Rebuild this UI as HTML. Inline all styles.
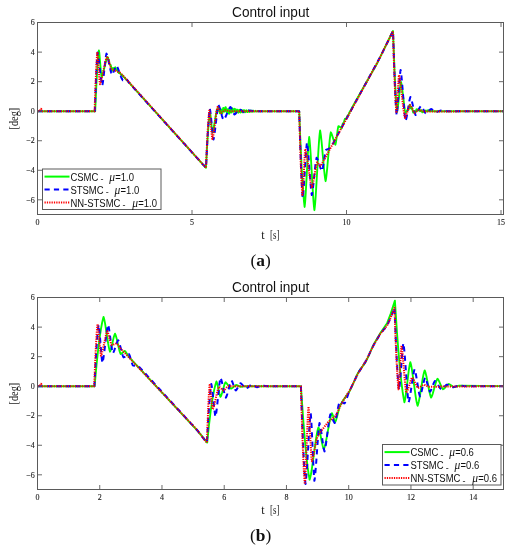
<!DOCTYPE html>
<html lang="en"><head><meta charset="utf-8"><title>Control input</title>
<style>
html,body{margin:0;padding:0;background:#fff;}
body{width:514px;height:550px;overflow:hidden;}
svg{display:block;}
text{fill:#1a1a1a;}
.tk{font-family:"Liberation Serif","DejaVu Serif",serif;font-size:8px;stroke:#1a1a1a;stroke-width:0.1px;}
.title{font-family:"Liberation Sans","DejaVu Sans",sans-serif;font-size:13.9px;fill:#111;}
.xl,.yl{font-family:"Liberation Serif","DejaVu Serif",serif;font-size:12px;}
.lg{font-family:"Liberation Sans","DejaVu Sans",sans-serif;font-size:9.5px;fill:#111;}
.lg .sub{font-size:9px;}
.lg .mu{font-family:"Liberation Serif","DejaVu Serif",serif;font-style:italic;font-size:11.5px;}
.cap{font-family:"Liberation Serif","DejaVu Serif",serif;font-size:17.4px;fill:#111;}
.cap .b{font-weight:bold;}
</style></head><body>
<svg width="514" height="550" viewBox="0 0 514 550">
<rect width="514" height="550" fill="#fff"/>
<g clip-path="url(#c1)" filter="url(#bl)">
<path d="M37.50,111.20 L95.20,111.20 L96.20,88.53 L96.95,74.44 L97.70,62.97 L98.20,56.85 L98.70,51.98 L98.90,50.40 L99.20,52.23 L99.45,54.41 L100.95,71.98 L101.20,74.36 L101.45,76.20 L101.60,77.00 L101.95,76.35 L102.45,75.08 L103.20,72.57 L105.95,61.24 L106.45,59.52 L106.95,58.11 L107.20,57.54 L107.50,57.00 L107.70,57.29 L107.95,57.76 L108.45,58.98 L108.95,60.49 L109.45,63.66 L109.70,64.53 L109.95,64.75 L110.20,64.63 L110.45,64.60 L110.70,65.03 L110.95,66.07 L111.45,69.08 L111.70,70.26 L111.95,70.76 L112.00,70.77 L112.20,70.29 L112.70,68.45 L112.95,67.90 L113.20,67.91 L113.45,68.39 L113.70,69.06 L113.95,69.57 L114.20,69.64 L114.45,69.20 L115.00,67.51 L115.20,67.29 L115.45,67.48 L115.70,68.13 L116.20,69.87 L116.45,70.39 L116.70,70.48 L116.95,70.25 L117.20,69.95 L117.45,69.84 L117.70,70.09 L117.95,70.72 L118.45,72.37 L118.70,72.91 L118.95,73.09 L119.20,72.95 L119.45,72.69 L119.70,72.54 L119.95,72.66 L120.20,73.08 L120.70,74.33 L120.95,74.79 L121.20,74.99 L121.45,74.96 L121.70,74.82 L121.95,74.75 L122.20,74.86 L122.45,75.19 L123.20,76.65 L123.45,76.93 L123.70,77.04 L124.20,77.14 L124.45,77.32 L124.70,77.63 L125.45,78.86 L125.70,79.15 L126.45,79.71 L126.95,80.24 L127.70,81.18 L206.00,167.80 L207.00,148.18 L207.75,135.92 L208.50,125.78 L209.00,120.22 L209.50,115.63 L210.00,112.00 L210.25,113.25 L210.50,115.05 L211.75,127.45 L212.00,129.65 L212.25,131.45 L212.50,132.70 L212.75,132.05 L213.00,131.21 L213.50,129.06 L214.50,123.47 L216.00,114.27 L216.50,111.64 L217.00,109.49 L217.25,110.41 L217.50,110.71 L217.75,110.60 L218.00,109.45 L218.25,107.88 L218.50,106.69 L218.75,106.54 L219.00,107.60 L219.50,111.62 L219.75,113.06 L220.00,113.36 L220.25,112.54 L220.75,109.77 L221.00,109.25 L221.25,109.63 L221.50,110.90 L221.75,112.42 L222.00,113.45 L222.25,113.47 L222.50,112.39 L223.00,108.87 L223.25,107.82 L223.50,107.83 L223.75,108.80 L224.00,110.19 L224.25,111.30 L224.50,111.55 L224.75,110.79 L225.25,107.91 L225.50,107.08 L225.75,107.25 L226.00,108.39 L226.50,111.57 L226.75,112.37 L227.00,112.18 L227.25,111.21 L227.50,109.99 L227.75,109.16 L228.00,109.17 L228.25,110.10 L228.75,113.01 L229.00,113.81 L229.25,113.55 L229.50,112.46 L229.75,111.02 L230.00,109.82 L230.25,109.35 L230.50,109.75 L231.00,111.90 L231.25,112.56 L231.50,112.41 L231.75,111.46 L232.25,108.89 L232.50,108.31 L232.75,108.57 L233.00,109.51 L233.25,110.74 L233.50,111.65 L233.75,111.84 L234.00,111.28 L234.50,109.22 L234.75,108.71 L235.00,108.96 L235.25,109.86 L235.50,111.04 L235.75,112.01 L236.00,112.37 L236.25,112.00 L236.75,110.15 L237.00,109.56 L237.25,109.63 L237.50,110.34 L238.00,112.29 L238.25,112.67 L238.50,112.39 L238.75,111.59 L239.00,110.63 L239.25,109.94 L239.50,109.83 L239.75,110.33 L240.25,112.05 L240.50,112.51 L240.75,112.37 L241.00,111.72 L241.25,110.85 L241.50,110.16 L241.75,109.94 L242.00,110.29 L242.50,111.83 L242.75,112.33 L243.00,112.31 L243.25,111.81 L243.75,110.37 L244.00,110.08 L244.25,110.30 L244.75,111.63 L245.00,112.14 L245.25,112.22 L245.50,111.85 L246.00,110.57 L246.25,110.24 L246.50,110.34 L246.75,110.82 L247.00,111.45 L247.25,111.95 L247.50,112.10 L247.75,111.85 L248.25,110.76 L248.50,110.41 L248.75,110.42 L249.00,110.78 L249.50,111.77 L249.75,111.96 L250.00,111.81 L250.50,110.91 L250.75,110.58 L251.00,110.53 L251.25,110.78 L251.75,111.60 L252.00,111.81 L252.25,111.74 L252.50,111.44 L252.75,111.04 L253.00,110.74 L253.25,110.66 L253.50,110.81 L254.00,111.46 L254.25,111.65 L254.50,111.64 L254.75,111.43 L255.25,110.89 L255.50,110.80 L255.75,110.88 L256.25,111.34 L256.50,111.50 L256.75,111.52 L257.00,111.40 L257.50,111.02 L257.75,110.94 L258.00,110.98 L258.75,111.37 L259.00,111.39 L259.25,111.33 L259.75,111.13 L260.00,111.08 L261.00,111.25 L299.20,111.20 L300.45,142.77 L301.45,163.95 L302.45,181.50 L303.20,192.29 L303.95,201.05 L304.60,207.00 L304.95,203.97 L305.20,201.10 L305.70,193.92 L307.95,152.54 L308.45,144.87 L308.70,141.69 L308.95,139.04 L309.20,137.00 L309.45,138.85 L309.70,141.21 L310.20,147.23 L310.95,158.70 L312.95,193.37 L313.45,200.64 L313.95,206.50 L314.20,208.76 L314.40,210.20 L314.70,207.96 L315.20,202.82 L315.70,196.22 L318.45,149.77 L318.95,142.37 L319.45,136.17 L319.70,133.63 L320.10,130.50 L320.45,132.28 L320.95,135.82 L321.70,142.84 L323.95,168.33 L324.70,175.47 L325.20,179.12 L325.60,181.20 L325.95,179.37 L326.45,175.68 L327.20,168.36 L329.20,145.14 L329.70,140.06 L330.20,135.83 L330.45,134.13 L330.80,132.30 L331.20,132.93 L331.70,134.07 L332.70,137.13 L334.20,142.09 L334.70,143.43 L334.95,143.97 L335.20,144.42 L335.40,144.70 L335.70,143.58 L335.95,142.27 L336.45,138.92 L337.45,131.25 L337.95,128.07 L338.20,126.88 L338.40,126.20 L338.95,126.39 L340.70,127.38 L340.95,127.49 L341.30,128.46 L341.45,128.51 L341.70,128.11 L341.95,127.15 L342.45,124.66 L342.70,123.76 L342.95,123.29 L343.20,123.16 L343.45,123.11 L343.70,122.89 L343.95,122.31 L344.50,120.08 L344.70,119.40 L344.95,118.81 L345.20,118.59 L345.45,118.69 L345.70,118.89 L345.95,118.98 L346.20,118.80 L346.45,118.30 L347.20,116.24 L347.45,115.83 L347.70,115.63 L347.95,115.52 L348.20,115.34 L348.45,114.97 L348.70,114.39 L349.45,112.29 L349.70,111.81 L350.45,110.90 L350.70,110.50 L351.70,108.32 L377.70,62.19 L393.00,31.00 L394.50,69.76 L395.25,86.02 L396.00,99.45 L396.50,106.56 L397.00,112.00 L397.25,110.97 L397.50,109.60 L398.00,106.05 L400.00,87.95 L400.50,84.40 L400.75,83.03 L401.00,82.00 L401.25,82.92 L401.50,84.12 L402.00,87.22 L404.25,105.75 L404.75,109.24 L405.00,110.68 L405.25,111.88 L405.50,112.80 L405.75,112.60 L406.25,112.01 L407.00,110.81 L408.00,108.92 L408.25,109.45 L408.50,109.53 L408.75,108.94 L409.00,107.77 L409.25,106.37 L409.50,105.23 L409.75,104.70 L410.00,104.91 L410.50,107.26 L410.75,108.21 L411.00,108.59 L411.25,108.40 L411.50,107.93 L411.75,107.58 L412.00,107.72 L412.25,108.47 L412.75,111.07 L413.00,112.15 L413.25,112.65 L413.50,112.53 L414.25,110.87 L414.50,110.87 L414.75,111.34 L415.00,112.00 L415.25,112.47 L415.50,112.47 L415.75,111.93 L416.25,110.03 L416.50,109.35 L416.75,109.16 L417.00,109.45 L417.50,110.51 L417.75,110.67 L418.00,110.37 L418.50,109.22 L418.75,108.81 L419.00,108.83 L419.25,109.31 L419.75,110.80 L420.00,111.26 L420.25,111.30 L420.50,110.97 L420.75,110.49 L421.00,110.14 L421.25,110.12 L421.50,110.50 L422.00,111.82 L422.25,112.27 L422.50,112.35 L422.75,112.06 L423.25,111.10 L423.50,110.87 L423.75,110.98 L424.25,111.79 L424.50,112.09 L424.75,112.08 L425.00,111.76 L425.50,110.78 L425.75,110.50 L426.00,110.51 L426.25,110.76 L426.50,111.12 L426.75,111.39 L427.00,111.43 L427.25,111.22 L427.75,110.44 L428.00,110.20 L428.25,110.22 L428.50,110.46 L429.00,111.11 L429.25,111.24 L429.50,111.17 L430.00,110.68 L430.25,110.50 L430.50,110.51 L430.75,110.68 L431.25,111.20 L431.50,111.34 L431.75,111.32 L432.50,110.86 L432.75,110.84 L433.00,110.95 L433.50,111.30 L433.75,111.40 L434.00,111.40 L434.75,111.07 L435.00,111.04 L435.25,111.08 L435.75,111.25 L436.00,111.29 L437.00,111.17 L503.50,111.20" fill="none" stroke="#00ff00" stroke-width="1.85" stroke-linejoin="round"/>
<path d="M37.50,111.20 L94.80,111.20 L96.05,79.18 L96.55,68.34 L97.05,59.43 L97.30,55.86 L97.60,52.50 L97.80,53.25 L98.05,54.46 L98.55,57.62 L101.05,79.19 L101.55,82.69 L101.80,84.11 L102.05,85.25 L102.20,85.80 L102.55,84.29 L102.80,82.84 L103.30,79.21 L105.30,61.01 L105.80,57.21 L106.05,55.66 L106.30,54.39 L106.50,53.60 L106.80,54.22 L107.30,55.67 L107.80,57.52 L110.55,70.36 L111.05,72.32 L111.55,73.89 L111.80,74.51 L112.00,74.90 L112.30,74.55 L112.80,73.69 L113.55,71.97 L115.05,68.03 L115.55,66.91 L116.05,66.02 L116.40,65.60 L116.80,66.10 L117.30,66.94 L118.05,68.58 L121.05,76.83 L121.80,78.56 L122.30,79.50 L122.90,80.30 L123.55,80.08 L125.30,79.14 L126.00,78.90 L126.55,79.30 L127.30,80.11 L130.05,83.88 L206.00,167.80 L207.25,142.16 L208.00,129.31 L208.75,118.76 L209.25,113.17 L209.80,108.50 L210.00,109.40 L210.25,110.89 L210.75,114.88 L212.50,132.67 L213.00,136.76 L213.25,138.33 L213.50,139.50 L213.75,138.56 L214.00,137.36 L214.50,134.28 L215.50,126.26 L217.00,113.20 L217.50,109.54 L218.00,106.63 L218.40,105.00 L218.75,105.56 L219.25,106.69 L220.00,108.94 L222.00,116.06 L222.75,118.31 L223.25,119.44 L223.60,120.00 L224.00,119.58 L224.50,118.88 L225.25,117.52 L228.50,110.00 L229.25,108.53 L229.75,107.74 L230.25,107.14 L230.40,107.00 L230.75,107.37 L231.25,108.16 L233.50,113.06 L234.00,113.92 L234.25,114.25 L234.50,114.50 L235.00,114.19 L235.75,113.47 L238.25,110.33 L238.75,109.82 L239.25,109.44 L239.50,109.30 L240.00,109.50 L241.00,110.15 L243.00,111.71 L243.75,112.11 L244.00,112.20 L245.25,111.86 L248.25,110.67 L249.00,110.50 L255.00,111.20 L299.20,111.20 L300.45,151.02 L301.20,171.04 L301.70,182.22 L302.20,191.36 L302.45,195.09 L302.70,198.20 L302.95,196.44 L303.20,194.14 L303.70,188.17 L305.95,153.21 L306.45,147.08 L306.70,144.68 L307.00,142.50 L307.20,143.63 L307.45,145.43 L307.95,150.12 L308.70,159.17 L310.45,182.79 L310.95,188.42 L311.45,192.84 L311.80,195.00 L311.95,194.42 L312.20,193.20 L312.70,189.97 L313.45,183.65 L315.20,166.89 L315.70,162.83 L316.20,159.60 L316.45,158.38 L316.60,157.80 L316.95,158.27 L317.45,159.22 L318.20,161.09 L320.45,167.84 L320.95,169.13 L321.45,170.18 L321.70,170.61 L322.00,171.00 L322.20,170.45 L322.45,169.55 L322.95,167.19 L324.95,154.72 L325.45,152.09 L325.70,151.02 L326.00,150.00 L327.20,149.34 L329.70,148.33 L330.40,147.95 L331.20,146.78 L380.70,56.07 L393.00,31.00 L394.25,68.60 L395.00,87.56 L395.50,98.24 L396.00,107.10 L396.60,115.00 L396.75,114.14 L397.00,112.28 L397.50,107.25 L399.50,80.15 L400.00,74.54 L400.25,72.31 L400.60,70.00 L401.00,72.35 L401.50,76.53 L402.25,84.72 L404.25,109.77 L404.75,114.94 L405.25,119.00 L405.60,121.00 L406.00,119.84 L406.50,117.76 L407.25,113.68 L409.00,102.86 L409.50,100.24 L410.00,98.16 L410.40,97.00 L410.75,97.67 L411.25,99.03 L412.00,101.73 L414.00,110.27 L414.50,112.14 L415.00,113.70 L415.25,114.33 L415.60,115.00 L416.00,114.62 L416.50,113.96 L417.25,112.66 L419.50,108.06 L420.25,106.82 L420.75,106.22 L421.00,106.00 L421.25,106.20 L421.75,106.77 L422.50,107.93 L424.75,112.09 L425.25,112.83 L425.75,113.40 L426.00,113.60 L426.50,113.32 L427.25,112.69 L429.75,109.91 L430.50,109.28 L431.00,109.00 L431.50,109.19 L432.50,109.81 L434.75,111.57 L435.50,112.01 L436.00,112.20 L437.25,111.86 L440.25,110.67 L441.00,110.50 L447.00,111.20 L503.50,111.20" fill="none" stroke="#0000ff" stroke-width="2" stroke-dasharray="5.2 4.2" stroke-linejoin="round"/>
<path d="M37.50,111.20 L39.40,111.20 L39.50,111.12 L39.75,110.80 L40.50,109.44 L40.75,109.06 L41.00,108.80 L41.25,109.06 L42.25,110.80 L42.50,111.12 L42.60,111.20 L94.60,111.20 L95.35,89.30 L96.10,71.09 L96.60,61.46 L96.85,57.52 L97.10,54.19 L97.30,52.00 L97.60,54.22 L97.85,56.86 L99.35,78.13 L99.60,81.00 L99.85,83.24 L100.00,84.20 L100.35,83.48 L100.85,82.10 L101.60,79.40 L105.10,62.88 L105.85,59.86 L106.35,58.20 L106.85,56.90 L107.10,56.40 L107.35,56.79 L107.60,57.29 L108.10,58.57 L110.35,66.23 L110.85,67.69 L111.40,68.90 L120.00,72.77 L123.60,76.24 L206.00,167.80 L207.00,144.76 L207.75,130.34 L208.25,122.35 L208.75,115.83 L209.00,113.15 L209.30,110.50 L209.50,111.51 L209.75,113.26 L210.25,117.94 L211.50,132.08 L212.00,136.63 L212.25,138.27 L212.40,139.00 L212.75,137.77 L213.25,135.30 L214.00,130.37 L216.00,114.91 L216.50,111.59 L217.00,108.89 L217.25,107.83 L217.50,107.00 L217.75,107.23 L218.00,107.55 L218.50,108.38 L220.00,111.42 L220.50,112.25 L220.75,112.57 L221.00,112.80 L221.50,112.60 L224.25,110.64 L224.75,110.39 L225.00,110.30 L229.75,111.18 L299.20,111.20 L300.20,146.66 L300.95,168.32 L301.45,180.11 L301.95,189.59 L302.40,196.00 L302.70,193.04 L302.95,189.55 L303.45,180.63 L304.45,160.56 L304.70,156.24 L304.95,152.59 L305.20,149.82 L305.30,149.00 L305.70,150.29 L306.20,152.49 L306.95,156.76 L309.95,178.25 L310.70,182.78 L311.20,185.20 L311.45,186.20 L311.80,187.30 L312.20,186.27 L312.70,184.46 L313.45,180.93 L315.70,168.31 L316.20,165.89 L316.70,163.89 L316.95,163.08 L317.30,162.20 L317.45,162.31 L317.70,162.58 L318.20,163.31 L319.20,165.05 L319.70,165.74 L320.00,166.00 L320.20,165.87 L320.70,165.37 L322.00,163.57 L379.20,59.15 L393.00,31.00 L394.00,63.89 L394.75,83.98 L395.25,95.05 L395.75,104.18 L396.25,111.28 L396.40,113.00 L396.50,112.25 L396.75,109.66 L397.00,106.23 L398.25,84.15 L398.50,80.31 L398.75,77.19 L399.00,75.00 L399.25,75.93 L399.50,77.08 L400.00,79.98 L400.75,85.51 L403.25,107.49 L404.00,113.02 L404.50,115.92 L404.75,117.07 L405.00,118.00 L405.25,117.66 L405.75,116.69 L406.25,115.42 L408.75,107.58 L409.25,106.31 L409.75,105.34 L410.00,105.00 L410.25,105.23 L410.75,105.89 L411.50,107.25 L413.25,110.94 L413.75,111.81 L414.25,112.47 L414.50,112.70 L415.00,112.51 L416.00,111.91 L418.00,110.46 L418.75,110.08 L419.00,110.00 L420.50,110.38 L423.25,111.35 L424.00,111.50 L503.50,111.20" fill="none" stroke="#ff0000" stroke-width="2" stroke-dasharray="1.25 1.1" stroke-linejoin="round"/>
</g>
<text x="37.50" y="225.30" class="tk" text-anchor="middle">0</text>
<text x="192.00" y="225.30" class="tk" text-anchor="middle">5</text>
<text x="346.50" y="225.30" class="tk" text-anchor="middle">10</text>
<text x="501.00" y="225.30" class="tk" text-anchor="middle">15</text>
<text x="34.70" y="25.28" class="tk" text-anchor="end">6</text>
<text x="34.70" y="54.82" class="tk" text-anchor="end">4</text>
<text x="34.70" y="84.36" class="tk" text-anchor="end">2</text>
<text x="34.70" y="113.90" class="tk" text-anchor="end">0</text>
<text x="34.70" y="143.44" class="tk" text-anchor="end">−2</text>
<text x="34.70" y="172.98" class="tk" text-anchor="end">−4</text>
<text x="34.70" y="202.52" class="tk" text-anchor="end">−6</text>
<path d="M192.00,214.5v-4.5M192.00,22.5v4.5M346.50,214.5v-4.5M346.50,22.5v4.5M501.00,214.5v-4.5M501.00,22.5v4.5M37.5,52.12h4.5M503.5,52.12h-4.5M37.5,81.66h4.5M503.5,81.66h-4.5M37.5,111.20h4.5M503.5,111.20h-4.5M37.5,140.74h4.5M503.5,140.74h-4.5M37.5,170.28h4.5M503.5,170.28h-4.5M37.5,199.82h4.5M503.5,199.82h-4.5" stroke="#5a5a5a" stroke-width="0.9" fill="none"/>
<rect x="37.5" y="22.5" width="466.0" height="192.0" fill="none" stroke="#5a5a5a" stroke-width="1"/>
<text x="270.7" y="16.80" class="title" text-anchor="middle" textLength="77.2" lengthAdjust="spacingAndGlyphs">Control input</text>
<text x="261.3" y="238.90" class="xl">t<tspan x="270.0" textLength="9.4" lengthAdjust="spacingAndGlyphs">[s]</tspan></text>
<text transform="translate(18.3,129.40) rotate(-90)" class="yl" textLength="21.6" lengthAdjust="spacingAndGlyphs">[deg]</text>
<rect x="42.5" y="169.0" width="118.5" height="40.5" fill="#fff" stroke="#5a5a5a" stroke-width="1"/>
<path d="M44.50,176.60h25" stroke="#00ff00" stroke-width="2" fill="none"/>
<text transform="translate(0,180.50) scale(1,1.1)" x="70.40" y="0" class="lg">CSMC<tspan class="sub" dy="1.4" dx="2.1">-</tspan><tspan dy="-1.4" x="109.20" class="mu">μ</tspan><tspan dx="0.2">=1.0</tspan></text>
<path d="M44.50,189.60h25" stroke="#0000ff" stroke-width="2" fill="none" stroke-dasharray="5.2 4.2"/>
<text transform="translate(0,193.50) scale(1,1.1)" x="70.40" y="0" class="lg">STSMC<tspan class="sub" dy="1.4" dx="2.1">-</tspan><tspan dy="-1.4" x="114.60" class="mu">μ</tspan><tspan dx="0.2">=1.0</tspan></text>
<path d="M44.50,202.60h25" stroke="#ff0000" stroke-width="2" fill="none" stroke-dasharray="1.25 1.1"/>
<text transform="translate(0,206.50) scale(1,1.1)" x="70.40" y="0" class="lg">NN-STSMC<tspan class="sub" dy="1.4" dx="2.1">-</tspan><tspan dy="-1.4" x="132.30" class="mu">μ</tspan><tspan dx="0.2">=1.0</tspan></text>
<text x="260.6" y="266.3" class="cap" text-anchor="middle">(<tspan class="b">a</tspan>)</text>
<g clip-path="url(#c2)" filter="url(#bl)">
<path d="M37.50,386.20 L94.60,386.20 L96.60,364.11 L98.35,347.84 L99.85,336.19 L101.10,328.13 L102.10,322.77 L102.85,319.39 L103.50,316.90 L103.85,317.90 L104.35,319.84 L105.10,323.66 L108.10,343.17 L108.85,347.34 L109.35,349.60 L109.60,350.53 L110.00,351.70 L110.35,350.99 L110.85,349.56 L111.60,346.72 L113.60,337.86 L114.10,336.00 L114.60,334.53 L115.00,333.70 L115.35,334.38 L115.85,335.73 L116.60,338.41 L119.10,349.29 L119.60,351.15 L120.10,352.69 L120.35,353.32 L120.70,354.00 L121.10,353.82 L121.85,353.28 L123.85,351.46 L124.35,351.11 L124.80,350.90 L125.10,351.14 L125.60,351.71 L126.60,353.26 L128.10,355.82 L128.60,356.51 L198.10,431.31 L207.20,442.60 L208.95,425.43 L210.70,410.98 L212.20,400.67 L213.45,393.50 L214.45,388.65 L215.45,384.58 L216.40,381.40 L216.70,382.04 L216.95,382.75 L217.45,384.56 L219.45,393.64 L219.95,395.45 L220.20,396.16 L220.50,396.80 L220.70,396.50 L220.95,396.03 L221.45,394.81 L222.20,392.44 L223.95,386.15 L224.45,384.58 L224.95,383.29 L225.20,382.77 L225.50,382.30 L225.95,382.60 L226.45,383.06 L227.45,384.30 L229.45,387.13 L230.20,387.99 L230.70,388.42 L231.00,388.60 L231.70,388.30 L232.95,387.43 L235.20,385.61 L235.95,385.17 L236.40,385.00 L237.45,385.32 L240.20,386.58 L241.00,386.80 L246.00,386.20 L300.90,386.20 L303.40,421.89 L305.15,443.23 L306.65,458.63 L307.65,467.23 L308.65,474.37 L309.40,478.70 L309.60,479.70 L309.90,478.80 L310.40,476.89 L310.90,474.53 L311.65,470.26 L315.90,439.73 L316.90,433.63 L317.40,431.10 L317.90,429.01 L318.40,427.40 L318.65,427.93 L318.90,428.60 L319.40,430.30 L320.15,433.54 L322.15,443.53 L322.90,446.68 L323.40,448.29 L323.80,449.20 L324.15,448.39 L324.65,446.89 L325.40,443.99 L326.65,437.87 L329.65,421.43 L330.40,417.99 L330.90,416.03 L331.40,414.42 L331.65,413.76 L331.90,413.20 L332.15,413.58 L332.40,414.10 L332.90,415.46 L334.40,420.32 L334.65,420.98 L334.90,421.53 L335.20,422.00 L335.65,421.14 L336.15,419.83 L336.90,417.33 L339.15,408.53 L340.00,405.78 L343.65,399.46 L348.15,393.39 L350.00,390.39 L352.15,386.00 L356.15,376.77 L358.15,372.77 L360.15,369.59 L364.15,364.27 L366.00,361.27 L368.15,356.88 L372.15,347.65 L374.15,343.66 L380.40,333.08 L386.15,324.64 L387.30,322.70 L390.65,313.82 L394.90,300.60 L396.90,331.38 L398.65,354.19 L400.15,370.69 L401.40,382.31 L402.65,391.99 L403.65,398.34 L404.40,402.30 L404.65,401.42 L404.90,400.32 L405.40,397.54 L406.15,392.25 L408.65,371.38 L409.15,367.82 L409.65,364.84 L409.90,363.62 L410.30,362.10 L410.65,363.20 L411.15,365.29 L411.90,369.37 L415.65,396.32 L416.40,400.83 L416.90,403.29 L417.40,405.21 L417.60,405.80 L417.90,405.03 L418.40,403.32 L418.90,401.16 L419.90,395.83 L422.65,378.93 L423.40,375.04 L423.90,372.88 L424.40,371.17 L424.70,370.40 L425.15,371.47 L425.65,373.11 L426.40,376.26 L429.40,391.74 L430.15,394.89 L430.65,396.53 L431.10,397.60 L431.40,397.13 L431.90,396.09 L432.65,394.01 L435.65,383.26 L436.40,380.98 L436.90,379.75 L437.15,379.25 L437.50,378.70 L437.90,379.13 L438.40,379.90 L439.15,381.39 L441.40,386.72 L442.15,388.19 L442.65,388.93 L443.00,389.30 L443.65,388.93 L444.40,388.30 L447.40,385.00 L448.15,384.37 L448.80,384.00 L449.40,384.23 L450.65,385.02 L452.65,386.53 L453.40,386.97 L454.00,387.20 L455.65,386.77 L458.15,385.88 L459.00,385.70 L503.50,386.20" fill="none" stroke="#00ff00" stroke-width="1.85" stroke-linejoin="round"/>
<path d="M37.50,386.20 L94.40,386.20 L95.40,365.95 L96.40,348.98 L97.15,338.59 L97.65,332.84 L98.15,328.09 L98.60,324.70 L98.90,326.43 L99.15,328.39 L99.65,333.40 L101.40,354.86 L101.90,359.73 L102.15,361.60 L102.40,363.00 L102.65,362.13 L102.90,361.03 L103.40,358.26 L104.15,352.97 L106.40,334.34 L107.15,329.13 L107.65,326.43 L107.90,325.38 L108.10,324.70 L108.40,325.71 L108.65,326.80 L109.15,329.58 L111.65,347.79 L112.15,350.70 L112.40,351.88 L112.65,352.84 L112.80,353.30 L113.15,352.83 L113.65,351.89 L114.40,350.03 L116.65,343.33 L117.15,342.06 L117.65,341.01 L117.90,340.59 L118.20,340.20 L118.40,340.52 L118.65,341.03 L119.15,342.34 L119.90,344.86 L122.15,353.64 L122.65,355.26 L123.15,356.57 L123.40,357.08 L123.60,357.40 L124.15,357.18 L125.15,356.57 L127.65,354.62 L128.40,354.19 L128.90,354.00 L129.15,354.39 L129.40,354.89 L129.90,356.21 L131.90,363.03 L132.40,364.44 L132.65,365.00 L133.00,365.60 L138.00,365.90 L138.65,366.36 L139.65,367.36 L197.15,430.22 L206.90,442.80 L208.15,420.41 L209.15,405.40 L209.90,396.12 L210.40,390.97 L210.90,386.72 L211.30,384.00 L211.65,385.58 L211.90,387.11 L212.40,390.93 L214.40,409.87 L214.90,413.69 L215.15,415.22 L215.50,416.80 L215.90,415.00 L216.40,411.79 L217.15,405.51 L219.15,386.31 L219.65,382.34 L220.15,379.23 L220.50,377.70 L220.90,378.56 L221.40,380.07 L222.15,383.04 L224.40,393.43 L224.90,395.33 L225.40,396.84 L225.80,397.70 L226.15,397.12 L226.65,395.98 L227.40,393.71 L229.90,384.49 L230.40,382.91 L230.90,381.61 L231.15,381.08 L231.50,380.50 L231.90,381.05 L232.40,382.06 L234.65,388.33 L235.15,389.48 L235.40,389.95 L235.80,390.50 L236.15,390.19 L236.65,389.56 L237.65,387.83 L239.15,384.95 L239.65,384.14 L240.15,383.51 L240.50,383.20 L240.90,383.42 L241.65,384.04 L244.65,387.55 L245.40,388.24 L246.00,388.60 L246.65,388.31 L247.65,387.63 L250.40,385.28 L251.15,384.79 L251.80,384.50 L252.65,384.80 L255.90,386.77 L256.65,387.10 L257.00,387.20 L258.40,386.83 L261.15,385.79 L262.00,385.60 L268.15,386.20 L300.90,386.20 L302.40,428.08 L303.40,451.30 L304.15,465.70 L304.65,473.69 L305.15,480.27 L305.50,484.00 L305.90,480.89 L306.40,475.39 L307.15,464.62 L309.15,431.01 L309.65,423.76 L310.15,417.78 L310.40,415.41 L310.70,413.20 L310.90,415.16 L311.15,418.42 L311.65,427.11 L313.40,465.90 L313.90,474.84 L314.15,478.26 L314.40,480.80 L314.65,479.30 L314.90,477.39 L315.40,472.51 L316.15,463.21 L317.90,438.58 L318.40,432.41 L318.90,427.28 L319.15,425.21 L319.50,423.00 L319.90,424.31 L320.40,426.64 L321.15,431.20 L323.15,445.15 L323.65,448.03 L324.15,450.29 L324.50,451.40 L324.90,450.00 L325.40,447.57 L326.15,442.84 L328.65,423.57 L329.40,418.69 L329.90,416.13 L330.15,415.11 L330.40,414.30 L330.65,414.57 L331.15,415.37 L331.90,417.01 L333.40,420.77 L333.90,421.84 L334.40,422.66 L334.70,423.00 L334.90,422.56 L335.15,421.86 L335.65,420.06 L336.40,416.57 L338.15,407.28 L338.65,404.96 L339.15,403.06 L339.40,402.30 L339.70,401.60 L340.65,401.86 L343.65,403.17 L344.50,403.40 L344.90,402.84 L345.40,401.90 L346.15,400.08 L348.65,392.88 L349.15,391.70 L357.15,375.14 L359.15,371.53 L365.15,362.26 L369.15,354.43 L373.15,346.02 L380.00,334.20 L386.40,326.45 L387.30,325.20 L390.65,317.75 L394.50,307.70 L395.75,338.33 L396.75,359.03 L397.50,371.95 L398.00,379.19 L398.50,385.23 L399.00,390.00 L399.25,388.56 L399.50,386.69 L400.00,381.83 L402.25,353.06 L402.75,347.83 L403.00,345.71 L403.25,344.01 L403.40,343.20 L403.75,345.41 L404.25,349.87 L405.00,358.72 L407.00,386.78 L407.50,392.93 L408.00,398.03 L408.25,400.09 L408.60,402.30 L409.00,401.08 L409.50,398.96 L410.25,394.83 L413.00,376.37 L413.50,373.54 L414.00,371.20 L414.25,370.25 L414.60,369.20 L415.00,370.34 L415.50,372.35 L416.25,376.28 L418.50,390.18 L419.00,392.78 L419.50,394.91 L419.75,395.74 L420.00,396.40 L420.25,395.92 L420.50,395.31 L421.00,393.76 L421.75,390.80 L423.75,381.85 L424.25,379.97 L424.75,378.46 L425.00,377.87 L425.20,377.50 L425.50,377.99 L426.00,379.14 L426.75,381.48 L428.75,388.72 L429.25,390.19 L429.50,390.80 L429.75,391.31 L430.00,391.70 L430.25,391.42 L430.75,390.62 L431.50,388.98 L433.50,383.72 L434.00,382.58 L434.50,381.65 L434.75,381.28 L435.00,381.00 L435.50,381.38 L436.00,381.90 L437.00,383.27 L439.50,387.33 L440.25,388.34 L440.75,388.88 L441.30,389.30 L441.75,389.09 L442.50,388.56 L445.75,385.38 L446.50,384.84 L447.00,384.60 L448.00,384.90 L452.00,386.90 L453.00,387.20 L458.50,385.68 L459.00,385.60 L465.00,386.20 L503.50,386.20" fill="none" stroke="#0000ff" stroke-width="2" stroke-dasharray="5.2 4.2" stroke-linejoin="round"/>
<path d="M37.50,386.20 L39.40,386.20 L39.50,386.12 L39.75,385.80 L40.50,384.44 L40.75,384.06 L41.00,383.80 L41.25,384.06 L42.25,385.80 L42.50,386.12 L42.60,386.20 L94.20,386.20 L95.20,361.50 L95.95,345.75 L96.45,336.95 L96.95,329.75 L97.20,326.80 L97.50,323.90 L97.70,324.89 L97.95,326.54 L98.45,330.97 L99.95,347.70 L100.45,352.38 L100.70,354.20 L101.00,355.80 L101.45,354.82 L101.95,353.31 L102.70,350.41 L105.45,337.34 L106.20,334.31 L106.70,332.69 L106.95,332.03 L107.30,331.30 L107.70,332.04 L108.20,333.38 L110.45,341.77 L110.95,343.37 L111.20,344.03 L111.45,344.58 L111.70,345.00 L113.20,344.61 L115.95,343.63 L116.60,343.50 L116.95,343.76 L117.45,344.27 L120.00,347.90 L196.70,429.49 L206.90,442.80 L207.90,415.67 L208.40,404.10 L208.90,394.45 L209.15,390.48 L209.40,387.16 L209.60,385.00 L209.90,386.42 L210.15,388.08 L210.65,392.32 L211.90,404.43 L212.15,406.42 L212.40,408.08 L212.70,409.50 L213.15,408.59 L213.65,407.19 L214.40,404.51 L217.15,392.40 L217.90,389.59 L218.40,388.09 L218.65,387.48 L219.00,386.80 L219.40,386.99 L220.15,387.53 L222.40,389.72 L223.15,390.28 L223.60,390.50 L224.15,390.17 L224.90,389.46 L226.90,387.15 L227.40,386.68 L228.00,386.30 L300.90,386.20 L301.90,421.12 L302.65,443.02 L303.40,461.09 L303.90,470.94 L304.40,478.99 L304.80,484.10 L305.15,479.73 L305.40,475.45 L305.90,464.67 L307.40,426.03 L307.90,415.25 L308.15,410.97 L308.50,406.60 L308.65,407.90 L308.90,410.79 L309.40,418.78 L310.90,449.02 L311.40,457.01 L311.65,459.90 L311.80,461.20 L312.15,460.38 L312.65,458.82 L313.40,455.77 L316.15,441.84 L316.90,438.61 L317.30,437.20 L320.40,431.98 L328.20,421.90 L334.40,416.98 L336.00,415.39 L336.65,414.05 L340.15,406.25 L342.15,402.39 L350.00,389.89 L358.15,373.27 L366.00,360.77 L374.15,344.15 L380.00,334.20 L386.40,326.45 L387.30,325.20 L390.65,317.75 L394.50,307.70 L395.50,336.39 L396.25,354.32 L397.00,369.14 L397.50,377.27 L398.00,384.00 L398.50,389.30 L398.75,387.19 L399.00,384.24 L399.50,376.51 L400.75,354.27 L401.00,350.66 L401.25,347.71 L401.50,345.60 L401.75,346.91 L402.00,348.60 L402.50,352.94 L405.00,382.37 L405.50,387.34 L405.75,389.42 L406.00,391.18 L406.30,392.80 L406.75,392.14 L407.25,391.11 L408.00,389.12 L410.50,381.18 L411.25,379.19 L411.75,378.16 L412.20,377.50 L412.50,377.79 L413.00,378.45 L413.75,379.78 L416.50,385.82 L417.00,386.73 L417.50,387.47 L417.75,387.77 L418.00,388.00 L418.75,387.74 L422.75,385.30 L423.75,384.87 L424.00,384.80 L425.00,385.08 L428.00,386.42 L429.00,386.70 L503.50,386.20" fill="none" stroke="#ff0000" stroke-width="2" stroke-dasharray="1.25 1.1" stroke-linejoin="round"/>
</g>
<text x="37.50" y="500.30" class="tk" text-anchor="middle">0</text>
<text x="99.74" y="500.30" class="tk" text-anchor="middle">2</text>
<text x="161.98" y="500.30" class="tk" text-anchor="middle">4</text>
<text x="224.22" y="500.30" class="tk" text-anchor="middle">6</text>
<text x="286.46" y="500.30" class="tk" text-anchor="middle">8</text>
<text x="348.70" y="500.30" class="tk" text-anchor="middle">10</text>
<text x="410.94" y="500.30" class="tk" text-anchor="middle">12</text>
<text x="473.18" y="500.30" class="tk" text-anchor="middle">14</text>
<text x="34.70" y="300.28" class="tk" text-anchor="end">6</text>
<text x="34.70" y="329.82" class="tk" text-anchor="end">4</text>
<text x="34.70" y="359.36" class="tk" text-anchor="end">2</text>
<text x="34.70" y="388.90" class="tk" text-anchor="end">0</text>
<text x="34.70" y="418.44" class="tk" text-anchor="end">−2</text>
<text x="34.70" y="447.98" class="tk" text-anchor="end">−4</text>
<text x="34.70" y="477.52" class="tk" text-anchor="end">−6</text>
<path d="M99.74,489.5v-4.5M99.74,297.5v4.5M161.98,489.5v-4.5M161.98,297.5v4.5M224.22,489.5v-4.5M224.22,297.5v4.5M286.46,489.5v-4.5M286.46,297.5v4.5M348.70,489.5v-4.5M348.70,297.5v4.5M410.94,489.5v-4.5M410.94,297.5v4.5M473.18,489.5v-4.5M473.18,297.5v4.5M37.5,327.12h4.5M503.5,327.12h-4.5M37.5,356.66h4.5M503.5,356.66h-4.5M37.5,386.20h4.5M503.5,386.20h-4.5M37.5,415.74h4.5M503.5,415.74h-4.5M37.5,445.28h4.5M503.5,445.28h-4.5M37.5,474.82h4.5M503.5,474.82h-4.5" stroke="#5a5a5a" stroke-width="0.9" fill="none"/>
<rect x="37.5" y="297.5" width="466.0" height="192.0" fill="none" stroke="#5a5a5a" stroke-width="1"/>
<text x="270.7" y="291.80" class="title" text-anchor="middle" textLength="77.2" lengthAdjust="spacingAndGlyphs">Control input</text>
<text x="261.3" y="513.90" class="xl">t<tspan x="270.0" textLength="9.4" lengthAdjust="spacingAndGlyphs">[s]</tspan></text>
<text transform="translate(18.3,404.40) rotate(-90)" class="yl" textLength="21.6" lengthAdjust="spacingAndGlyphs">[deg]</text>
<rect x="382.5" y="444.5" width="118.5" height="40.5" fill="#fff" stroke="#5a5a5a" stroke-width="1"/>
<path d="M384.50,452.10h25" stroke="#00ff00" stroke-width="2" fill="none"/>
<text transform="translate(0,456.00) scale(1,1.1)" x="410.40" y="0" class="lg">CSMC<tspan class="sub" dy="1.4" dx="2.1">-</tspan><tspan dy="-1.4" x="449.20" class="mu">μ</tspan><tspan dx="0.2">=0.6</tspan></text>
<path d="M384.50,465.10h25" stroke="#0000ff" stroke-width="2" fill="none" stroke-dasharray="5.2 4.2"/>
<text transform="translate(0,469.00) scale(1,1.1)" x="410.40" y="0" class="lg">STSMC<tspan class="sub" dy="1.4" dx="2.1">-</tspan><tspan dy="-1.4" x="454.60" class="mu">μ</tspan><tspan dx="0.2">=0.6</tspan></text>
<path d="M384.50,478.10h25" stroke="#ff0000" stroke-width="2" fill="none" stroke-dasharray="1.25 1.1"/>
<text transform="translate(0,482.00) scale(1,1.1)" x="410.40" y="0" class="lg">NN-STSMC<tspan class="sub" dy="1.4" dx="2.1">-</tspan><tspan dy="-1.4" x="472.30" class="mu">μ</tspan><tspan dx="0.2">=0.6</tspan></text>
<text x="260.6" y="541.3" class="cap" text-anchor="middle">(<tspan class="b">b</tspan>)</text>
<defs><filter id="bl" x="0" y="0" width="514" height="550" filterUnits="userSpaceOnUse"><feGaussianBlur stdDeviation="0.35"/></filter><clipPath id="c1"><rect x="37" y="22" width="467" height="193"/></clipPath><clipPath id="c2"><rect x="37" y="297" width="467" height="193"/></clipPath></defs>
</svg>
</body></html>
